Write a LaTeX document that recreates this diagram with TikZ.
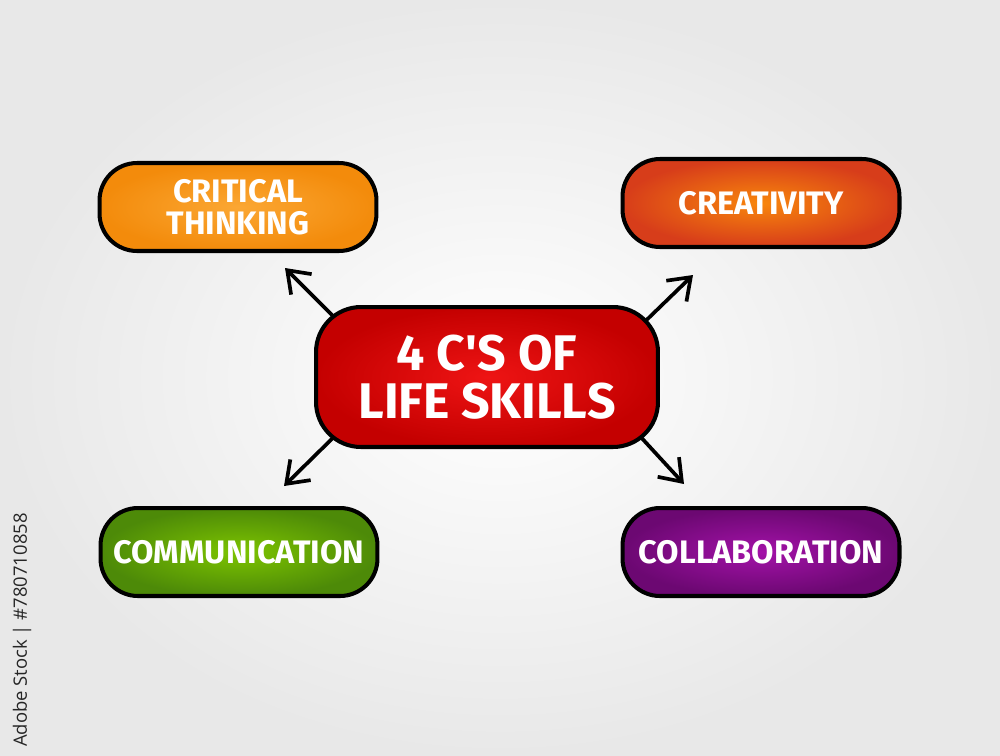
\documentclass[tikz,border=0pt]{standalone}
\usepackage{fontspec}
\setmainfont{Fira Sans}
\newfontfamily\hand{Fira Sans}
\newfontfamily\wm{Open Sans}
\usetikzlibrary{arrows.meta,calc}
\definecolor{ctin}{HTML}{FBA733}
\definecolor{ctout}{HTML}{F38B0B}
\definecolor{crin}{HTML}{F8860C}
\definecolor{crout}{HTML}{D73D1A}
\definecolor{cin}{HTML}{EE1414}
\definecolor{cout}{HTML}{C40000}
\definecolor{cmin}{HTML}{7DC400}
\definecolor{cmout}{HTML}{4D8A08}
\definecolor{clin}{HTML}{A312A8}
\definecolor{clout}{HTML}{6C0872}
\tikzset{
  box/.style={draw=black, line width=2.3pt, rounded corners=0.75cm, text=white,
    align=center, inner sep=0pt, minimum width=5.54cm, minimum height=1.76cm,
    font=\hand\bfseries\fontsize{18.5}{18.2}\selectfont},
  arr/.style={line width=2.1pt, line cap=round,
    -{Straight Barb[length=4mm,width=5.8mm,line width=2.1pt]}}
}
\begin{document}
\begin{tikzpicture}[x=0.02cm,y=-0.02cm]
\useasboundingbox (0,0) rectangle (1000,755);
\shade[inner color=white, outer color=black!9] (0,0) rectangle (1000,755);
% arrow end points
\coordinate (a1) at (285,268);
\coordinate (a2) at (693,275);
\coordinate (a3) at (284,486);
\coordinate (a4) at (684,484);
\coordinate (cc) at (487,377);
\draw[arr] ($(cc)+(-142,-49)$) -- (a1);
\draw[arr] ($(cc)+(143,-41)$) -- (a2);
\draw[arr] ($(cc)+(-142,49)$) -- (a3);
\draw[arr] ($(cc)+(139,44)$) -- (a4);
% center
\node[box, minimum width=6.84cm, minimum height=2.8cm, rounded corners=0.9cm,
  inner color=cin, outer color=cout,
  font=\hand\bfseries\fontsize{28.5}{27.2}\selectfont] (c) at (cc) {4 C'S OF\\LIFE SKILLS};
\node[box, inner color=ctin, outer color=ctout] (ct) at (238,207) {CRITICAL\\THINKING};
\node[box, inner color=crin, outer color=crout] (cr) at (761,203) {CREATIVITY};
\node[box, inner color=cmin, outer color=cmout] (cm) at (239,552) {COMMUNICATION};
\node[box, inner color=clin, outer color=clout] (cl) at (761,552) {COLLABORATION};
\node[rotate=90, text=black!85, font=\wm\fontsize{10.5}{12}\selectfont] (w) at (22,630) {Adobe Stock | \#780710858};
\end{tikzpicture}
\end{document}
